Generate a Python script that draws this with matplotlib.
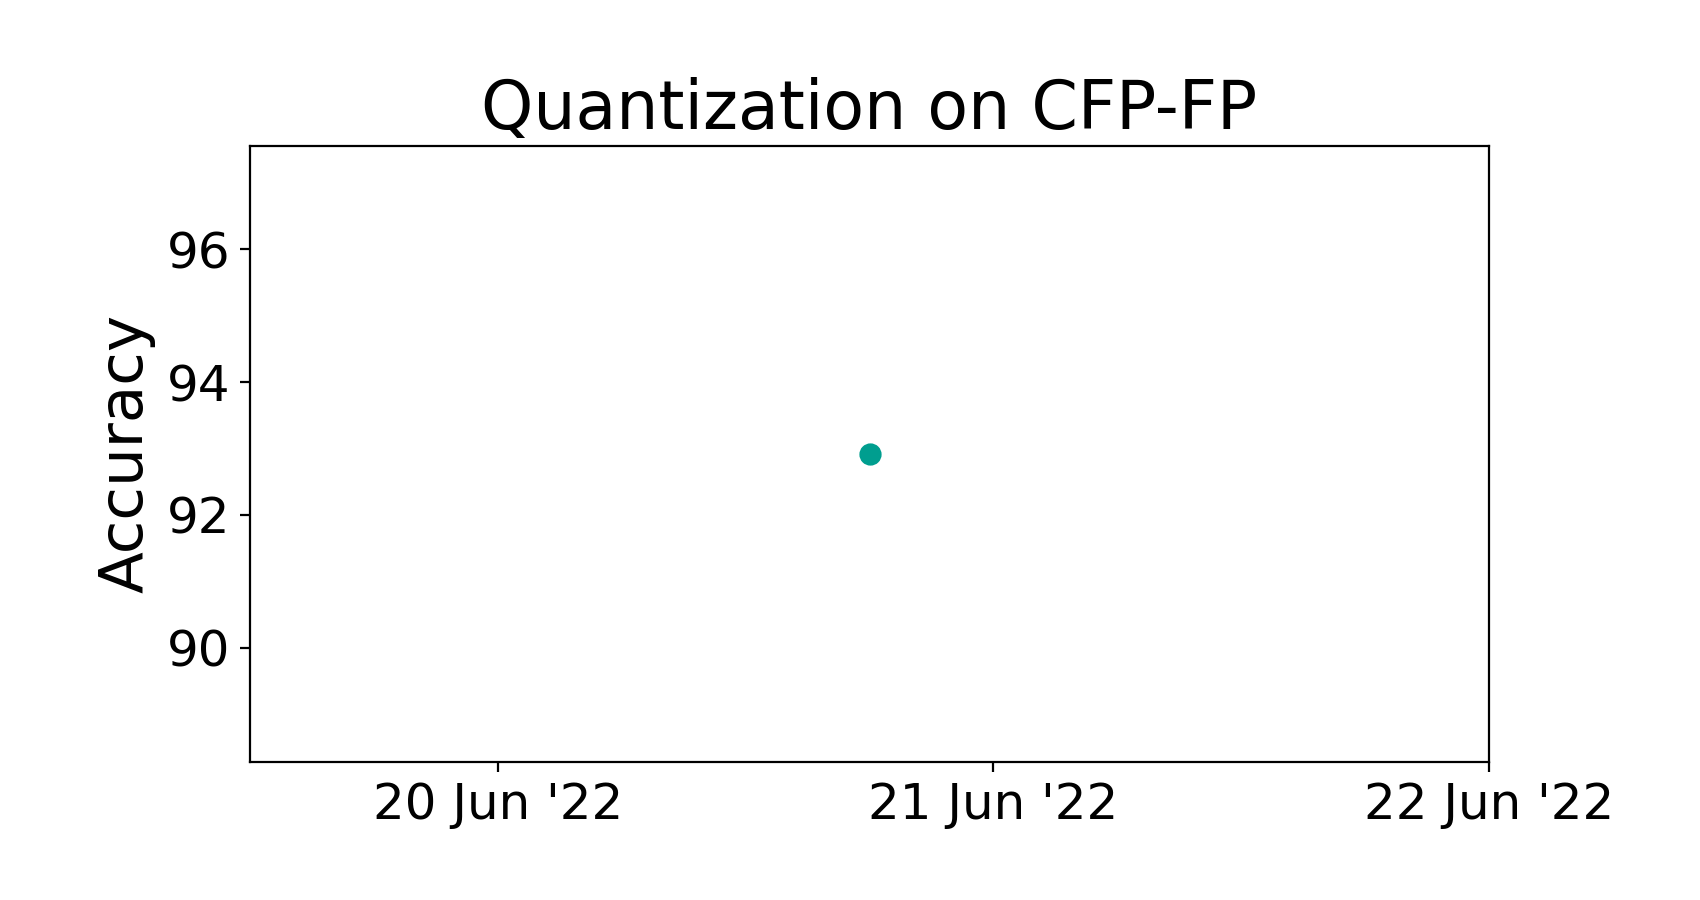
import matplotlib
matplotlib.use("Agg")
import matplotlib.pyplot as plt
import matplotlib.dates as mdates
import numpy as np
from datetime import datetime

# data: one quantization result
dates = [datetime(2022, 6, 20, 18, 0)]
accuracy = [92.92]

fig = plt.figure(figsize=(8.5, 4.5), dpi=200)
ax = fig.add_axes([0.147, 0.1537, 0.729, 0.6841])

ax.plot(dates, accuracy, 'o', color='#009E8F', markersize=7)

ax.set_xlim(datetime(2022, 6, 19, 12, 0), datetime(2022, 6, 22, 0, 0))
ax.set_ylim(88.283, 97.556)
ax.xaxis.set_major_locator(mdates.DayLocator())
ax.xaxis.set_major_formatter(mdates.DateFormatter("%d %b '%y"))
ax.set_yticks([90, 92, 94, 96])

ax.tick_params(labelsize=18)
ax.set_ylabel('Accuracy', fontsize=22)
ax.set_title('Quantization on CFP-FP', fontsize=24)

plt.savefig('out.png', dpi=200)
